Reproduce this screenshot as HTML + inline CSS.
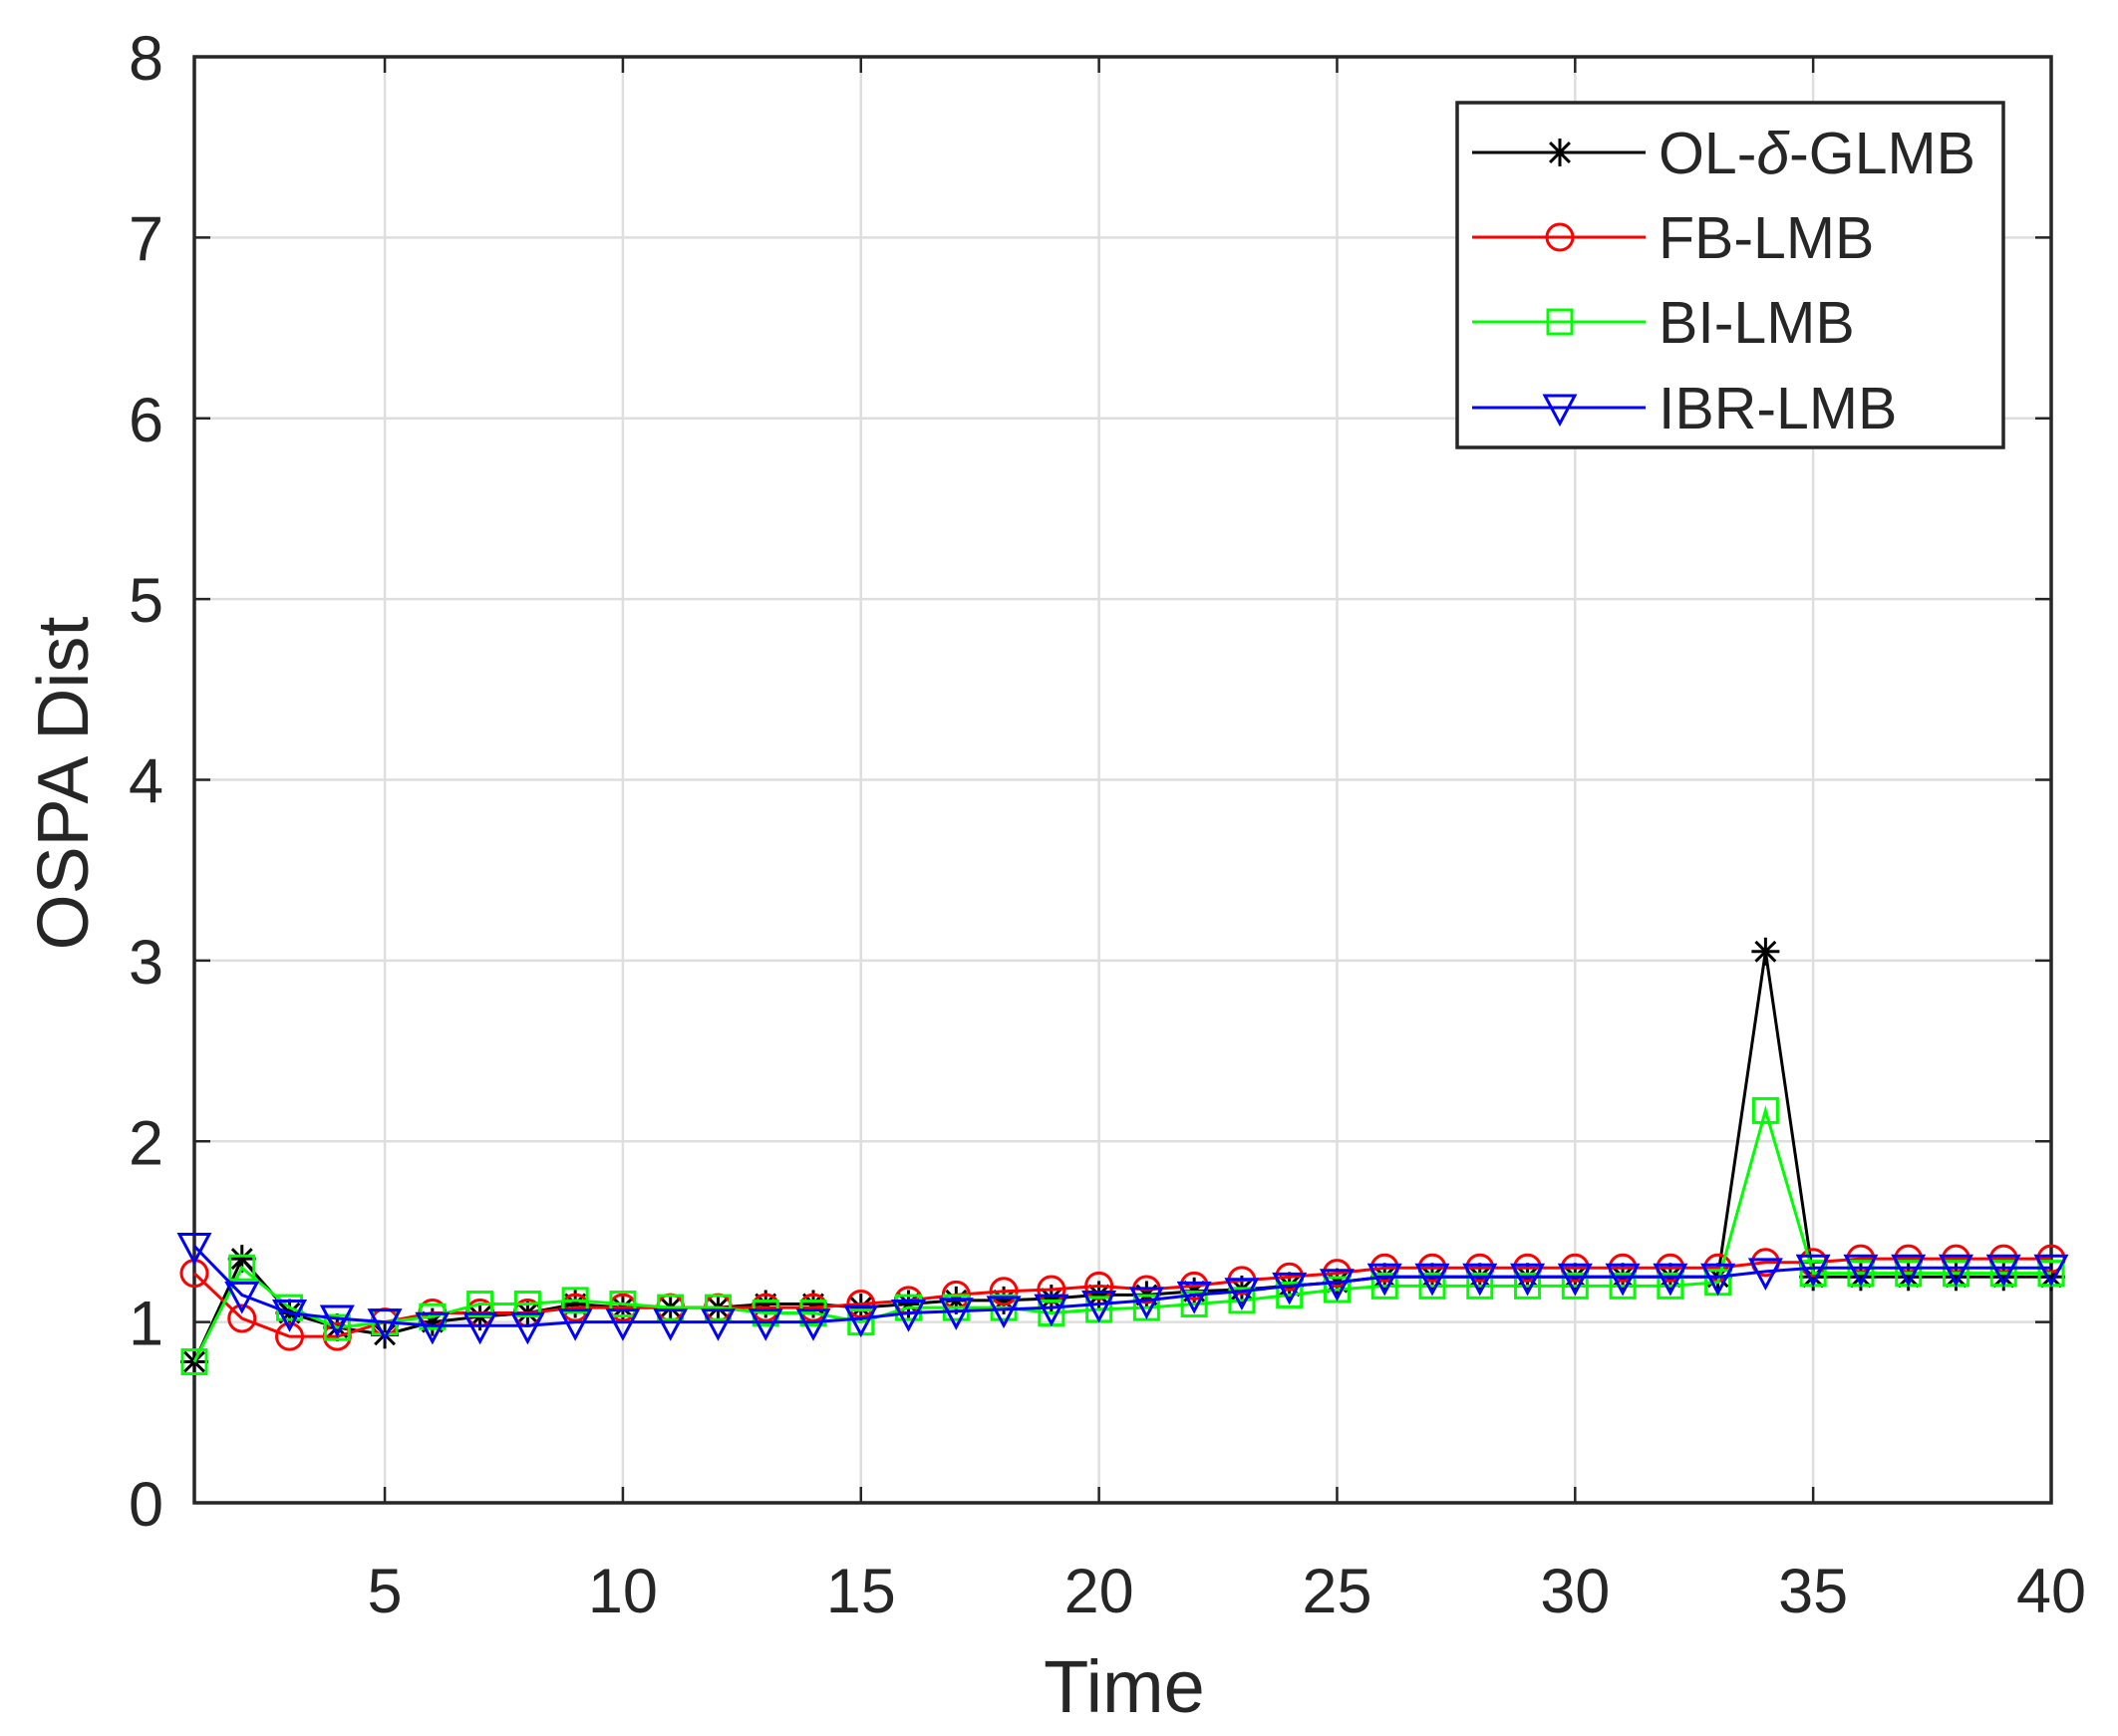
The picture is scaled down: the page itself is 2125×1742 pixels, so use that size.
<!DOCTYPE html>
<html><head><meta charset="utf-8"><style>
html,body{margin:0;padding:0;background:#fff;}
svg{display:block;}
text{font-family:"Liberation Sans",Arial,sans-serif;fill:#262626;}
</style></head><body>
<svg id="s" width="2125" height="1742" xmlns="http://www.w3.org/2000/svg"></svg>
<script>
const L=195,R=2058,T=57,B=1508;
const X=t=>L+(t-1)*(R-L)/39, Y=v=>B-v*(B-T)/8;
let h='<rect width="2125" height="1742" fill="#fff"/>';
for(let t=5;t<=40;t+=5){h+=`<line x1="${X(t)}" y1="${T}" x2="${X(t)}" y2="${B}" stroke="#dedede" stroke-width="2.5"/>`;}
for(let v=1;v<8;v++){h+=`<line x1="${L}" y1="${Y(v)}" x2="${R}" y2="${Y(v)}" stroke="#dedede" stroke-width="2.5"/>`;}
h+=`<rect x="${L}" y="${T}" width="${R-L}" height="${B-T}" fill="none" stroke="#262626" stroke-width="3.5"/>`;
for(let t=5;t<=40;t+=5){h+=`<line x1="${X(t)}" y1="${B}" x2="${X(t)}" y2="${B-16}" stroke="#262626" stroke-width="2.5"/><line x1="${X(t)}" y1="${T}" x2="${X(t)}" y2="${T+16}" stroke="#262626" stroke-width="2.5"/><text x="${X(t)}" y="1618" font-size="63" text-anchor="middle">${t}</text>`;}
for(let v=0;v<=8;v++){h+=`<line x1="${L}" y1="${Y(v)}" x2="${L+16}" y2="${Y(v)}" stroke="#262626" stroke-width="2.5"/><line x1="${R}" y1="${Y(v)}" x2="${R-16}" y2="${Y(v)}" stroke="#262626" stroke-width="2.5"/><text x="164" y="${Y(v)+23}" font-size="63" text-anchor="end">${v}</text>`;}
h+=`<text x="1128" y="1718" font-size="74" text-anchor="middle">Time</text>`;
h+=`<text transform="translate(88,786) rotate(-90)" font-size="72" text-anchor="middle">OSPA Dist</text>`;
const ol=[0.78,1.35,1.05,0.97,0.93,1.0,1.03,1.05,1.1,1.08,1.08,1.08,1.1,1.1,1.08,1.1,1.12,1.12,1.13,1.15,1.15,1.17,1.18,1.2,1.22,1.25,1.25,1.25,1.25,1.25,1.25,1.25,1.25,3.05,1.25,1.25,1.25,1.25,1.25,1.25];
const fb=[1.27,1.02,0.92,0.92,1.0,1.05,1.05,1.05,1.08,1.08,1.08,1.08,1.08,1.08,1.1,1.12,1.15,1.17,1.18,1.2,1.18,1.2,1.23,1.25,1.27,1.3,1.3,1.3,1.3,1.3,1.3,1.3,1.3,1.33,1.33,1.35,1.35,1.35,1.35,1.35];
const bi=[0.78,1.3,1.08,0.97,1.0,1.03,1.1,1.1,1.12,1.1,1.08,1.08,1.05,1.05,1.0,1.08,1.08,1.08,1.05,1.07,1.08,1.1,1.12,1.15,1.18,1.2,1.2,1.2,1.2,1.2,1.2,1.2,1.22,2.17,1.27,1.27,1.27,1.27,1.27,1.27];
const ib=[1.42,1.15,1.05,1.02,1.0,0.98,0.98,0.98,1.0,1.0,1.0,1.0,1.0,1.0,1.02,1.05,1.06,1.07,1.08,1.1,1.12,1.15,1.17,1.2,1.22,1.25,1.25,1.25,1.25,1.25,1.25,1.25,1.25,1.28,1.3,1.3,1.3,1.3,1.3,1.3];
function mk(type,x,y,c){
 if(type=='*'){let s='',r=14;for(const a of [0,45,90,135]){const dx=r*Math.cos(a*Math.PI/180),dy=r*Math.sin(a*Math.PI/180);s+=`<line x1="${x-dx}" y1="${y-dy}" x2="${x+dx}" y2="${y+dy}" stroke="${c}" stroke-width="3"/>`;}return s;}
 if(type=='o')return `<circle cx="${x}" cy="${y}" r="13" fill="none" stroke="${c}" stroke-width="3"/>`;
 if(type=='s')return `<rect x="${x-12}" y="${y-12}" width="24" height="24" fill="none" stroke="${c}" stroke-width="3"/>`;
 return `<polygon points="${x-15},${y-12} ${x+15},${y-12} ${x},${y+16}" fill="none" stroke="${c}" stroke-width="3"/>`;
}
function series(d,c,type){
 h+=`<polyline fill="none" stroke="${c}" stroke-width="3" points="${d.map((v,i)=>X(i+1)+','+Y(v)).join(' ')}"/>`;
 d.forEach((v,i)=>h+=mk(type,X(i+1),Y(v),c));
}
series(ol,'#000','*');series(fb,'#ff0000','o');series(bi,'#00ff00','s');series(ib,'#0000ff','v');
h+=`<rect x="1462" y="103" width="548" height="346" fill="#fff" stroke="#262626" stroke-width="3.5"/>`;
const leg=[['OL-<tspan font-style="italic">δ</tspan>-GLMB','#000','*'],['FB-LMB','#ff0000','o'],['BI-LMB','#00ff00','s'],['IBR-LMB','#0000ff','v']];
leg.forEach((e,i)=>{const y=[153,238,323,409][i];h+=`<line x1="1477" y1="${y}" x2="1651" y2="${y}" stroke="${e[1]}" stroke-width="3"/>`+mk(e[2],1565,y,e[1])+`<text x="1664" y="${y+21}" font-size="59">${e[0]}</text>`;});
document.getElementById('s').innerHTML=h;
</script>
</body></html>
